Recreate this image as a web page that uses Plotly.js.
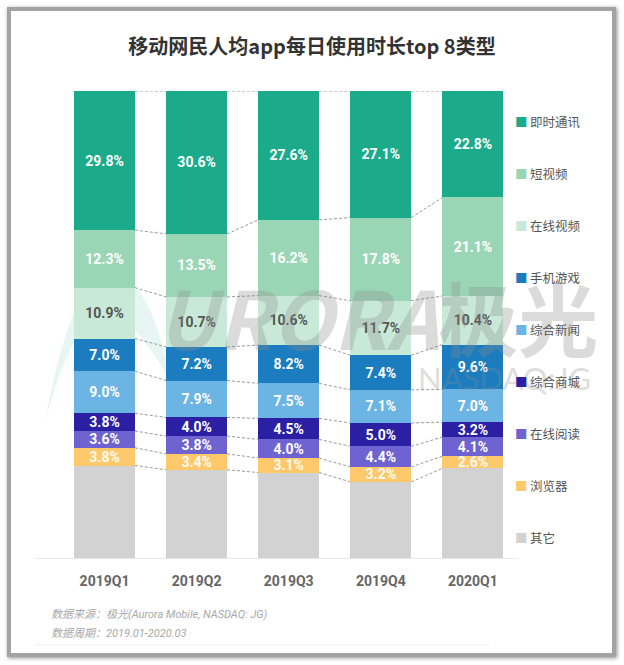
<!DOCTYPE html>
<html>
<head>
<meta charset="utf-8">
<script src="https://cdn.plot.ly/plotly-3.0.1.min.js"></script>
<style>
  html, body { margin: 0; padding: 0; background: #ffffff; }
  #chart { position: absolute; left: 0; top: 0; width: 624px; height: 665px; }
  #frame {
    position: absolute; left: 7px; top: 7px; width: 601px; height: 642px;
    border: 4px solid #a3a3a3; box-shadow: 1px 1px 4px rgba(0,0,0,0.45);
    pointer-events: none; background: transparent;
  }
</style>
</head>
<body>
<div id="chart"></div>
<div id="frame"></div>
<script>
// Quarters on the x axis
const quarters = ['2019Q1', '2019Q2', '2019Q3', '2019Q4', '2020Q1'];

// Share of daily app time per category (%), one value per quarter
const imChat      = [29.8, 30.6, 27.6, 27.1, 22.8]; // 即时通讯
const shortVideo  = [12.3, 13.5, 16.2, 17.8, 21.1]; // 短视频
const onlineVideo = [10.9, 10.7, 10.6, 11.7, 10.4]; // 在线视频
const mobileGame  = [7.0, 7.2, 8.2, 7.4, 9.6];      // 手机游戏
const newsApps    = [9.0, 7.9, 7.5, 7.1, 7.0];      // 综合新闻
const shopping    = [3.8, 4.0, 4.5, 5.0, 3.2];      // 综合商城
const reading     = [3.6, 3.8, 4.0, 4.4, 4.1];      // 在线阅读
const browsers    = [3.8, 3.4, 3.1, 3.2, 2.6];      // 浏览器
const others      = [19.8, 18.9, 18.3, 16.3, 19.2]; // 其它

// Stack from bottom to top
const stack = [
  { name: '其它',     values: others,      color: '#d2d2d2', label: false, textColor: '#ffffff' },
  { name: '浏览器',   values: browsers,    color: '#fdc96b', label: true,  textColor: '#fffaf0' },
  { name: '在线阅读', values: reading,     color: '#6f63d2', label: true,  textColor: '#ffffff' },
  { name: '综合商城', values: shopping,    color: '#2b1fa3', label: true,  textColor: '#ffffff' },
  { name: '综合新闻', values: newsApps,    color: '#6cb4e3', label: true,  textColor: '#ffffff' },
  { name: '手机游戏', values: mobileGame,  color: '#1b7dc0', label: true,  textColor: '#ffffff' },
  { name: '在线视频', values: onlineVideo, color: '#c8e9d7', label: true,  textColor: '#555555' },
  { name: '短视频',   values: shortVideo,  color: '#9ad6b5', label: true,  textColor: '#ffffff' },
  { name: '即时通讯', values: imChat,      color: '#1bab8a', label: true,  textColor: '#ffffff' }
];

const xs = quarters.map((q, i) => i);
const barWidth = 0.66;

const traces = stack.map(s => ({
  type: 'bar',
  name: s.name,
  x: xs,
  y: s.values,
  width: barWidth,
  marker: { color: s.color, line: { width: 0 } },
  text: s.label ? s.values.map(v => v.toFixed(1) + '%') : undefined,
  texttemplate: s.label ? '%{text}' : '',
  textposition: s.label ? 'inside' : 'none',
  insidetextanchor: 'middle',
  textangle: 0,
  constraintext: 'none',
  textfont: { family: 'Roboto, "Noto Sans", sans-serif', size: 14, color: s.textColor, weight: 'bold' },
  showlegend: false,
  hoverinfo: 'skip'
}));

// Dashed connectors between the stacked segment boundaries of neighbouring bars
const cum = [];
let running = xs.map(() => 0);
stack.forEach(s => {
  running = running.map((r, i) => r + s.values[i]);
  cum.push(running.slice());
});
const lx = [], ly = [];
cum.forEach(level => {
  for (let i = 0; i < xs.length - 1; i++) {
    lx.push(xs[i] + barWidth / 2, xs[i + 1] - barWidth / 2, null);
    ly.push(level[i], level[i + 1], null);
  }
});
traces.push({
  type: 'scatter', mode: 'lines', x: lx, y: ly,
  line: { color: '#9a9a9a', width: 1, dash: '3px,2px' },
  showlegend: false, hoverinfo: 'skip', connectgaps: false
});

// Legend column, top entry first
const legendAnn = stack.slice().reverse().map((s, i) => ({
  xref: 'paper', yref: 'y',
  x: 0.99, y: 93.4 - i * 11.13,
  xanchor: 'left', yanchor: 'middle',
  text: '<span style="color:' + s.color + '">■</span>\u2009' + s.name,
  showarrow: false,
  font: { family: '"Noto Sans CJK SC", sans-serif', size: 12.5, color: '#555555' }
}));

const annotations = [
  // watermark
  { xref: 'paper', yref: 'paper', x: 0.71, y: 0.52, xanchor: 'center', yanchor: 'middle',
    text: '<i>URORA</i>极光', showarrow: false, opacity: 0.3,
    font: { family: '"Noto Sans CJK SC", Lato, sans-serif', size: 80, color: '#8c8c8c', weight: 'bold' } },
  { xref: 'paper', yref: 'paper', x: 1.155, y: 0.385, xanchor: 'right', yanchor: 'middle',
    text: 'NASDAQ:JG', showarrow: false, opacity: 0.28,
    font: { family: 'Lato, "Open Sans", sans-serif', size: 31, color: '#8c8c8c' } },
  // footer
  { xref: 'paper', yref: 'paper', x: 0.03, y: -0.12, xanchor: 'left', yanchor: 'middle',
    text: '<i>数据来源：极光(Aurora Mobile, NASDAQ: JG)</i>', showarrow: false,
    font: { family: 'Roboto, "Noto Sans CJK SC", sans-serif', size: 11, color: '#a8a8a8' } },
  { xref: 'paper', yref: 'paper', x: 0.03, y: -0.161, xanchor: 'left', yanchor: 'middle',
    text: '<i>数据周期：2019.01-2020.03</i>', showarrow: false,
    font: { family: 'Roboto, "Noto Sans CJK SC", sans-serif', size: 11, color: '#a8a8a8' } }
].concat(legendAnn);

const layout = {
  width: 624, height: 665,
  margin: { l: 35, r: 106, t: 91, b: 107 },
  paper_bgcolor: '#ffffff', plot_bgcolor: '#ffffff',
  barmode: 'stack',
  bargap: 0.34,
  hovermode: false,
  showlegend: false,
  title: {
    text: '移动网民人均app每日使用时长top 8类型',
    x: 0.5, xref: 'container', xanchor: 'center',
    y: 0.929, yref: 'container', yanchor: 'middle',
    font: { family: '"Noto Sans CJK SC", sans-serif', size: 20, color: '#333333', weight: 'bold' }
  },
  xaxis: {
    range: [-0.755, 4.49],
    tickmode: 'array', tickvals: xs, ticktext: quarters,
    showgrid: false, zeroline: false,
    showline: true, linecolor: '#e8e8e8', linewidth: 1,
    ticks: '', ticklabelstandoff: 10,
    tickfont: { family: 'Roboto, "Noto Sans", sans-serif', size: 14, color: '#666666', weight: 'bold' },
    fixedrange: true
  },
  yaxis: {
    range: [0, 100], showgrid: false, zeroline: false, showline: false,
    showticklabels: false, ticks: '', fixedrange: true
  },
  shapes: [
    // faint leaf of the watermark logo
    { type: 'path', xref: 'paper', yref: 'paper', layer: 'below',
      path: 'M 0.02,0.29 Q 0.08,0.62 0.16,0.61 Q 0.24,0.60 0.28,0.38 Q 0.20,0.52 0.15,0.53 Q 0.08,0.52 0.02,0.29 Z',
      fillcolor: 'rgba(27,171,138,0.10)', line: { width: 0 } },
    // footer separator
    { type: 'line', xref: 'paper', yref: 'paper', x0: 0.0, x1: 0.942, y0: -0.186, y1: -0.186,
      line: { color: '#efefef', width: 1 } }
  ],
  annotations: annotations
};

Plotly.newPlot('chart', traces, layout, { displayModeBar: false, staticPlot: true });
</script>
</body>
</html>
